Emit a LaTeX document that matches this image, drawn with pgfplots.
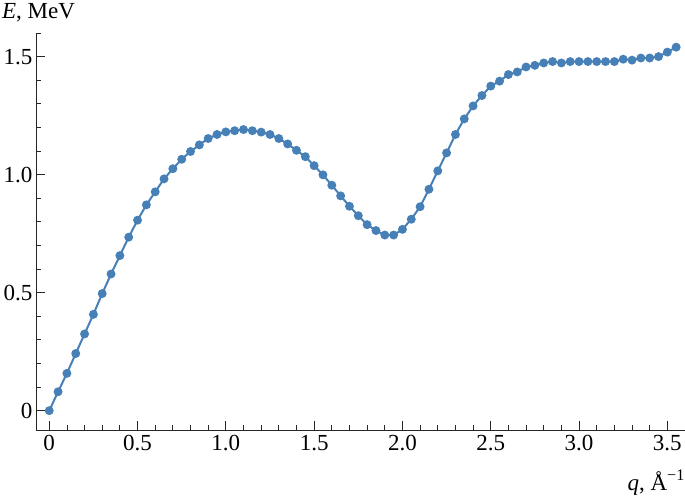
\documentclass[border=0pt]{standalone}
\usepackage{pgfplots}
\pgfplotsset{compat=1.18}
\usepackage{fontspec}
\setmainfont{Liberation Serif}
\definecolor{curve}{RGB}{70,128,182}
\begin{document}
\begin{tikzpicture}
\begin{axis}[
  at={(0,0)}, anchor=south west,
  scale only axis, width=649pt, height=397pt,
  xmin=-0.075, xmax=3.6, ymin=-0.082, ymax=1.6,
  axis x line*=bottom, axis y line*=left,
  axis line style={-, line width=0.8pt, black!85},
  tick align=inside,
  major tick length=9pt, minor tick length=5pt,
  tick style={line width=0.8pt, black!85},
  xtick={0,0.5,1,1.5,2,2.5,3,3.5},
  xticklabels={0,0.5,1.0,1.5,2.0,2.5,3.0,3.5},
  ytick={0,0.5,1,1.5},
  yticklabels={0,0.5,1.0,1.5},
  minor xtick={0.1,0.2,0.3,0.4,0.6,0.7,0.8,0.9,1.1,1.2,1.3,1.4,1.6,1.7,1.8,1.9,2.1,2.2,2.3,2.4,2.6,2.7,2.8,2.9,3.1,3.2,3.3,3.4,3.6},
  minor ytick={0.1,0.2,0.3,0.4,0.6,0.7,0.8,0.9,1.1,1.2,1.3,1.4,1.6},
  /pgf/number format/assume math mode=true,
  tick label style={font=\fontsize{23}{27}\selectfont},
  xticklabel style={yshift=-2pt},
  clip=false,
]
\addplot[color=curve, line width=2pt, mark=*, mark size=3.4pt, mark options={solid, fill=curve, draw=none}] coordinates {
(0.00,0.000) (0.05,0.080) (0.10,0.158) (0.15,0.242) (0.20,0.325)
(0.25,0.408) (0.30,0.496) (0.35,0.579) (0.40,0.657) (0.45,0.735)
(0.50,0.807) (0.55,0.872) (0.60,0.927) (0.65,0.982) (0.70,1.025)
(0.75,1.065) (0.80,1.098) (0.85,1.126) (0.90,1.153) (0.95,1.170)
(1.00,1.181) (1.05,1.186) (1.10,1.191) (1.15,1.186) (1.20,1.180)
(1.25,1.170) (1.30,1.153) (1.35,1.130) (1.40,1.103) (1.45,1.076)
(1.50,1.038) (1.55,0.999) (1.60,0.955) (1.65,0.910) (1.70,0.866)
(1.75,0.826) (1.80,0.788) (1.85,0.763) (1.90,0.744) (1.95,0.744)
(2.00,0.768) (2.05,0.811) (2.10,0.864) (2.15,0.938) (2.20,1.016)
(2.25,1.092) (2.30,1.170) (2.35,1.236) (2.40,1.291) (2.45,1.335)
(2.50,1.375) (2.55,1.396) (2.60,1.424) (2.65,1.435) (2.70,1.456)
(2.75,1.463) (2.80,1.473) (2.85,1.479) (2.90,1.473) (2.95,1.479)
(3.00,1.479) (3.05,1.479) (3.10,1.479) (3.15,1.479) (3.20,1.479)
(3.25,1.489) (3.30,1.485) (3.35,1.494) (3.40,1.494) (3.45,1.500)
(3.50,1.519) (3.55,1.540)
};
\end{axis}
\node[anchor=base west, inner sep=0pt, font=\fontsize{23}{27}\selectfont] at (-34pt,411pt) {\textit{E}, MeV};
\node[anchor=base east, inner sep=0pt, font=\fontsize{23}{27}\selectfont] at (649pt,-60pt) {\textit{q}, Å\textsuperscript{\char"2212 1}};
\pgfresetboundingbox
\path[use as bounding box] (-36pt,-66pt) rectangle (649pt,430pt);
\end{tikzpicture}
\end{document}
